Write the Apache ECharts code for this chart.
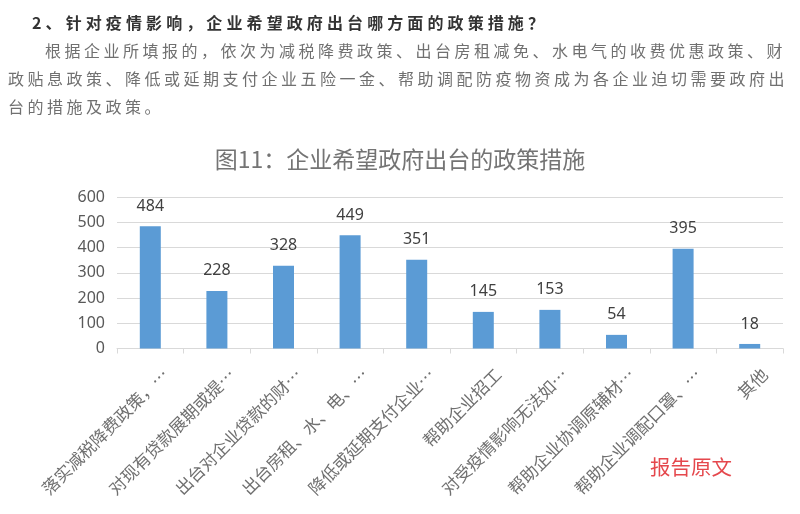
<!DOCTYPE html>
<html><head><meta charset="utf-8">
<script src="https://cdn.jsdelivr.net/npm/echarts/dist/echarts.min.js"></script>
<style>
html,body{margin:0;padding:0;background:#fff;}
#wrap{position:relative;width:800px;height:514px;overflow:hidden;background:#fff;}
#chart{position:absolute;left:0;top:0;width:800px;height:514px;}
.ln{position:absolute;font-family:"Noto Sans CJK SC","Noto Sans",sans-serif;font-size:16px;line-height:20px;letter-spacing:3.5px;white-space:nowrap;color:#707070;z-index:2;}
.h1{font-weight:bold;color:#333;letter-spacing:4.1px;}
</style></head>
<body>
<div id="wrap">
<div id="chart"></div>
<div class="ln h1" style="left:32px;top:12px;">2、针对疫情影响，企业希望政府出台哪方面的政策措施？</div>
<div class="ln" style="left:45px;top:40px;">根据企业所填报的，依次为减税降费政策、出台房租减免、水电气的收费优惠政策、财</div>
<div class="ln" style="left:8px;top:68px;">政贴息政策、降低或延期支付企业五险一金、帮助调配防疫物资成为各企业迫切需要政府出</div>
<div class="ln" style="left:8px;top:96px;">台的措施及政策。</div>
</div>
<script>
const titleText = '图11：企业希望政府出台的政策措施';
const categories = [
  '落实减税降费政策，…',
  '对现有贷款展期或提…',
  '出台对企业贷款的财…',
  '出台房租、水、电、…',
  '降低或延期支付企业…',
  '帮助企业招工',
  '对受疫情影响无法如…',
  '帮助企业协调原辅材…',
  '帮助企业调配口罩、…',
  '其他'
];
const values = [484, 228, 328, 449, 351, 145, 153, 54, 395, 18];
const yMin = 0, yMax = 600, yStep = 100;
const watermark = '报告原文';

const chart = echarts.init(document.getElementById('chart'));
chart.setOption({
  animation: false,
  backgroundColor: '#fff',
  title: {
    text: titleText,
    left: 'center',
    top: 143,
    textStyle: {fontSize: 23, fontWeight: 'normal', color: '#747474', fontFamily: 'Noto Sans CJK SC'}
  },
  grid: {left: 117, right: 17, top: 197, bottom: 165.5, containLabel: false},
  xAxis: {
    type: 'category',
    data: categories,
    axisLine: {lineStyle: {color: '#d9d9d9'}},
    axisTick: {show: true, length: 5, lineStyle: {color: '#d9d9d9'}},
    axisLabel: {
      rotate: 45, interval: 0, margin: 8,
      fontSize: 17, color: '#707070', fontFamily: 'Noto Sans CJK SC',
      formatter: function (v) { return '{s| }{t|' + v + '}'; },
      rich: {
        s: {height: 66, lineHeight: 66, fontSize: 2},
        t: {fontSize: 17, lineHeight: 24, height: 24, verticalAlign: 'bottom', color: '#707070', fontFamily: 'Noto Sans CJK SC'}
      }
    }
  },
  yAxis: {
    type: 'value', min: yMin, max: yMax, interval: yStep,
    axisLine: {show: false}, axisTick: {show: false},
    splitLine: {lineStyle: {color: '#d9d9d9'}},
    axisLabel: {margin: 12, fontSize: 16, color: '#595959', fontFamily: 'Noto Sans'}
  },
  series: [{
    type: 'bar',
    data: values,
    barWidth: 21,
    itemStyle: {color: '#5b9bd5'},
    label: {show: true, position: 'top', distance: 12, fontSize: 16, color: '#404040', fontFamily: 'Noto Sans'}
  }],
  graphic: [{
    type: 'text', left: 650, top: 457,
    style: {text: watermark, fontSize: 20.5, fill: '#e5484d', fontFamily: 'Noto Sans CJK SC'}
  }]
});
</script>
</body></html>
